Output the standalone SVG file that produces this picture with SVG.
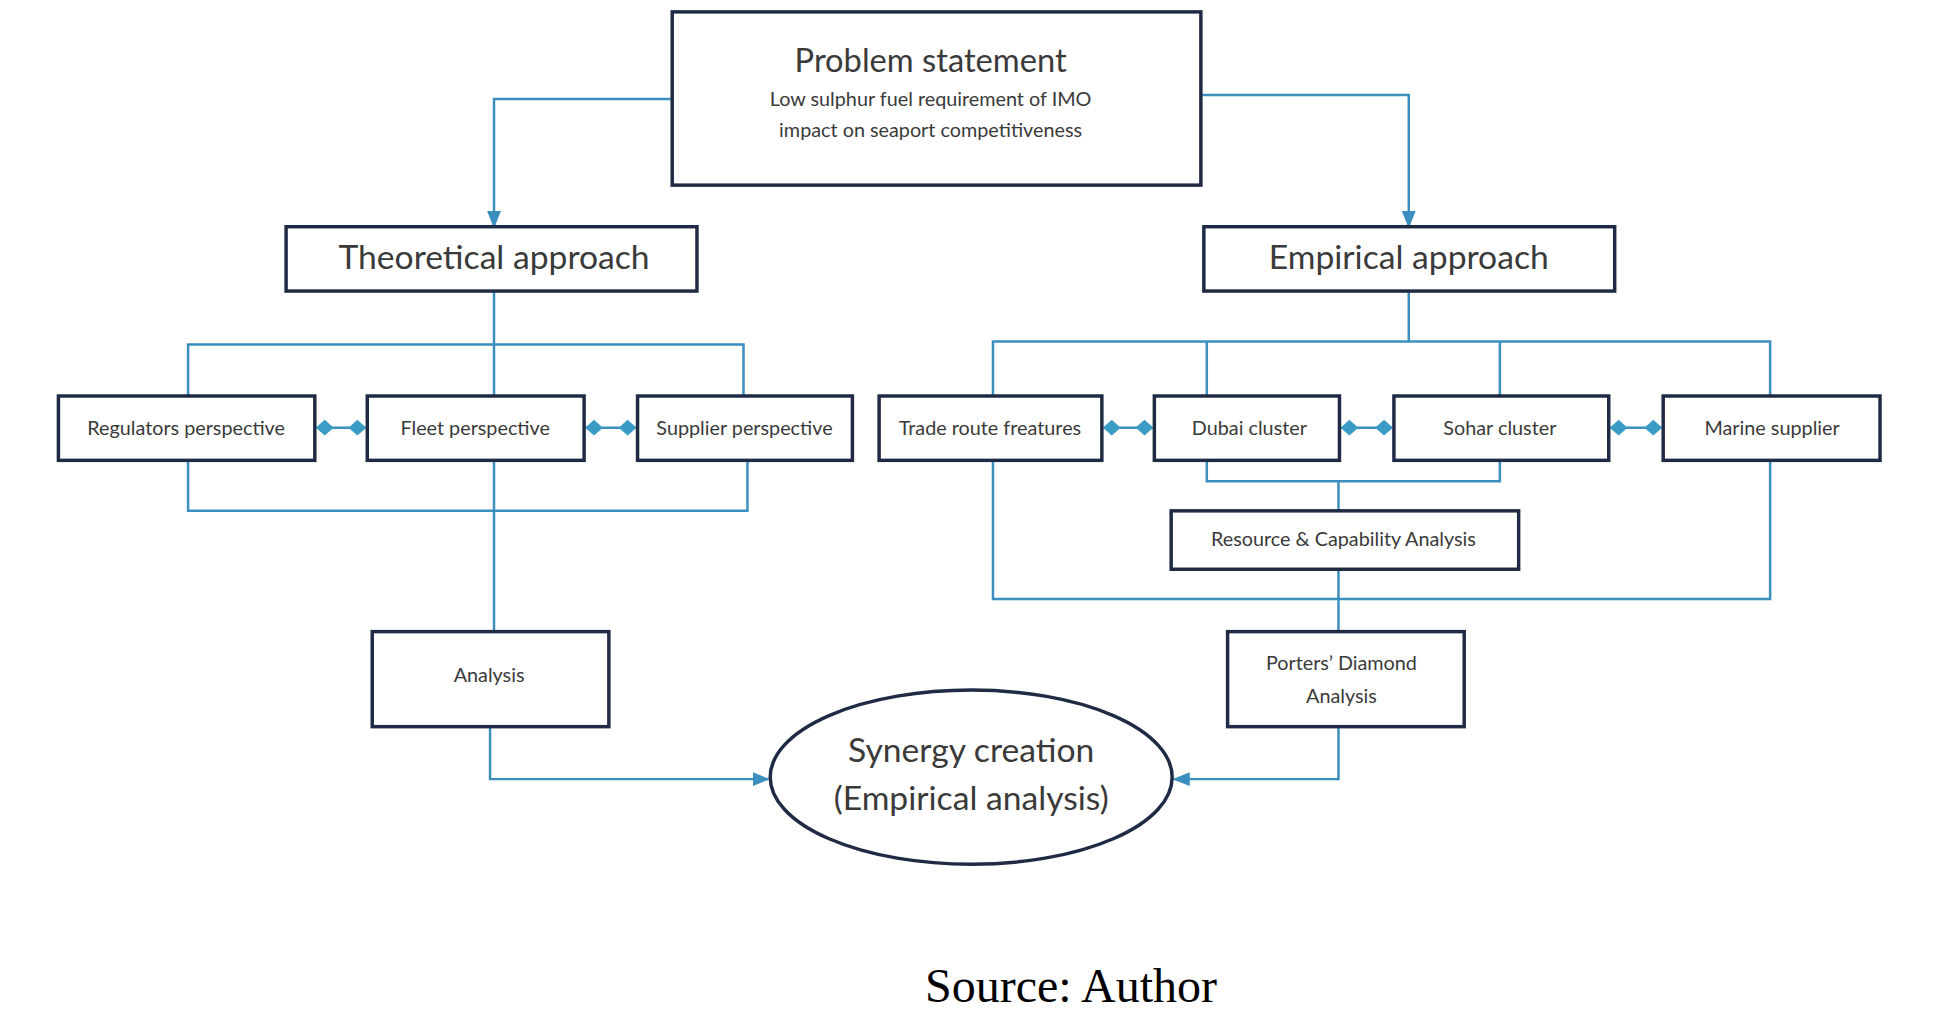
<svg xmlns="http://www.w3.org/2000/svg" width="1939" height="1019" viewBox="0 0 1939 1019">
<defs>
<style>
.b{fill:#fff;stroke:#1f2a44;stroke-width:3.5}
.c{fill:none;stroke:#3a8fbf;stroke-width:2.5}
text{font-family:Lato,"Open Sans",sans-serif;fill:#3a3a3a;text-anchor:middle}
.s{font-size:20px}
.l{font-size:34px}
</style>
<marker id="a" viewBox="0 0 10 10" refX="9" refY="5" markerWidth="7" markerHeight="7" orient="auto"><path d="M0,1 L10,5 L0,9 Z" fill="#3a8fbf"/></marker>
<marker id="d" viewBox="0 0 18 18" refX="17" refY="9" markerWidth="18" markerHeight="18" markerUnits="userSpaceOnUse" orient="auto-start-reverse"><path d="M0,9 L9,1 L18,9 L9,17 Z" fill="#3a9cc4"/></marker>
</defs>
<rect width="1939" height="1019" fill="#fff"/>
<g transform="scale(0.99)">
<g id="connectors">
<path class="c" d="M679,100 H499 V229" marker-end="url(#a)"/>
<path class="c" d="M1213,96 H1423 V229" marker-end="url(#a)"/>
<path class="c" d="M499,294 V638"/>
<path class="c" d="M190,400 V348 H751 V400"/>
<path class="c" d="M190,465 V516 H755 V465"/>
<path class="c" d="M1423,294 V345"/>
<path class="c" d="M1003,400 V345 H1788 V400 M1219,345 V400 M1515,345 V400"/>
<path class="c" d="M1219,465 V486 H1515 V465 M1352,486 V516 M1352,575 V638"/>
<path class="c" d="M1003,465 V605 H1788 V465"/>
<path class="c" d="M495,734 V787 H776" marker-end="url(#a)"/>
<path class="c" d="M1352,734 V787 H1186" marker-end="url(#a)"/>
<path class="c" d="M320,432 H369" marker-start="url(#d)" marker-end="url(#d)"/>
<path class="c" d="M592,432 H642" marker-start="url(#d)" marker-end="url(#d)"/>
<path class="c" d="M1115,432 H1164" marker-start="url(#d)" marker-end="url(#d)"/>
<path class="c" d="M1355,432 H1406" marker-start="url(#d)" marker-end="url(#d)"/>
<path class="c" d="M1627,432 H1678" marker-start="url(#d)" marker-end="url(#d)"/>
</g>
<g id="problem"><rect class="b" x="679" y="12" width="534" height="175"/>
<text x="940" y="73" class="l" style="font-size:33px">Problem statement</text>
<text x="940" y="107" class="s">Low sulphur fuel requirement of IMO</text>
<text x="940" y="138" class="s">impact on seaport competitiveness</text></g>
<g id="theoretical"><rect class="b" x="289" y="229" width="415" height="65"/><text x="499" y="272" class="l">Theoretical approach</text></g>
<g id="empirical"><rect class="b" x="1216" y="229" width="415" height="65"/><text x="1423" y="272" class="l">Empirical approach</text></g>
<g id="regulators"><rect class="b" x="59" y="400" width="259" height="65"/><text x="188" y="439" class="s">Regulators perspective</text></g>
<g id="fleet"><rect class="b" x="371" y="400" width="219" height="65"/><text x="480" y="439" class="s">Fleet perspective</text></g>
<g id="supplier"><rect class="b" x="644" y="400" width="217" height="65"/><text x="752" y="439" class="s">Supplier perspective</text></g>
<g id="trade"><rect class="b" x="888" y="400" width="225" height="65"/><text x="1000" y="439" class="s">Trade route freatures</text></g>
<g id="dubai"><rect class="b" x="1166" y="400" width="187" height="65"/><text x="1262" y="439" class="s">Dubai cluster</text></g>
<g id="sohar"><rect class="b" x="1408" y="400" width="217" height="65"/><text x="1515" y="439" class="s">Sohar cluster</text></g>
<g id="marine"><rect class="b" x="1680" y="400" width="219" height="65"/><text x="1790" y="439" class="s">Marine supplier</text></g>
<g id="resource"><rect class="b" x="1183" y="516" width="351" height="59"/><text x="1357" y="552" class="s">Resource &amp; Capability Analysis</text></g>
<g id="analysis"><rect class="b" x="376" y="638" width="239" height="96"/><text x="494" y="689" class="s">Analysis</text></g>
<g id="porters"><rect class="b" x="1240" y="638" width="239" height="96"/><text x="1355" y="677" class="s">Porters’ Diamond</text><text x="1355" y="710" class="s">Analysis</text></g>
<g id="synergy"><ellipse class="b" cx="981" cy="785" rx="203" ry="88"/><text x="981" y="770" class="l">Synergy creation</text><text x="981" y="818" class="l">(Empirical analysis)</text></g>
</g>
<text x="1071" y="1002" style="font-family:'Liberation Serif',serif;font-size:48px;fill:#000">Source: Author</text>
</svg>
